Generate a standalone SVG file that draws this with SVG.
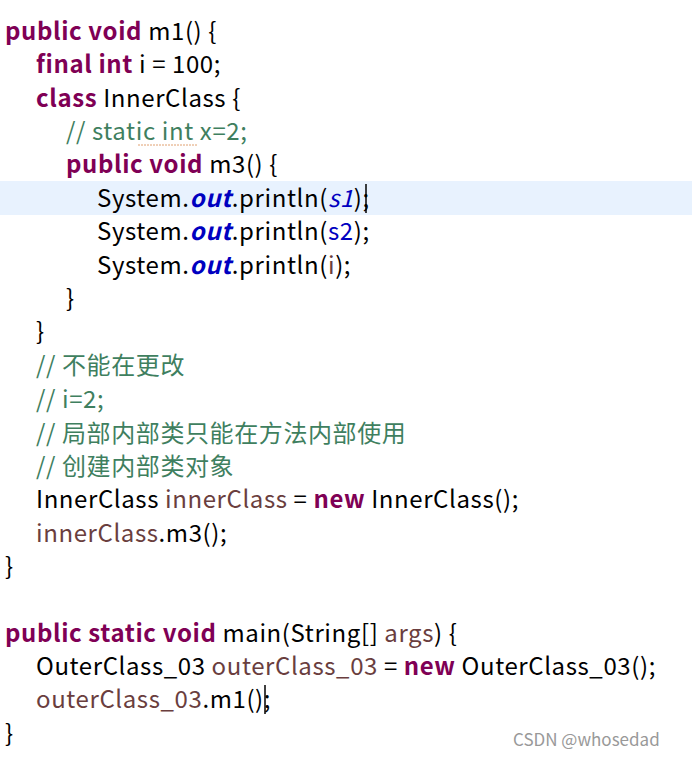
<svg xmlns="http://www.w3.org/2000/svg" width="692" height="757" viewBox="0 0 692 757">
<style>
text{font-family:"Noto Sans CJK SC","Noto Sans",sans-serif;font-size:24px;letter-spacing:0.6px;fill:#000}
.k{fill:#7f0055;font-weight:bold}
.c{fill:#3f7f5f}
.v{fill:#6a3e3e}
.o{fill:#0000c0;font-weight:bold;font-style:italic}
.f{fill:#0000c0}
.fi{fill:#0000c0;font-style:italic}
</style>
<rect width="692" height="757" fill="#fff"/>
<rect x="0" y="181" width="692" height="34" fill="#e8f2fe"/>
<line x1="366" y1="184" x2="366" y2="213" stroke="#000" stroke-width="1.5"/>
<line x1="265" y1="685" x2="265" y2="714" stroke="#000" stroke-width="1.5"/>
<line x1="138" y1="145" x2="198" y2="145" stroke="#e0a070" stroke-width="1" stroke-dasharray="2,1"/>
<text x="5" y="40"><tspan class="k">public void</tspan> m1() {</text>
<text x="36" y="73"><tspan class="k">final int</tspan> i = 100;</text>
<text x="36" y="107"><tspan class="k">class</tspan> InnerClass {</text>
<text x="66" y="140" class="c">// static int x=2;</text>
<text x="66" y="173"><tspan class="k">public void</tspan> m3() {</text>
<text x="97" y="207">System.<tspan class="o">out</tspan>.println(<tspan class="fi">s1</tspan>);</text>
<text x="97" y="240">System.<tspan class="o">out</tspan>.println(<tspan class="f">s2</tspan>);</text>
<text x="97" y="274">System.<tspan class="o">out</tspan>.println(<tspan class="v">i</tspan>);</text>
<text x="66" y="307">}</text>
<text x="36" y="340">}</text>
<text x="36" y="374" class="c">// 不能在更改</text>
<text x="36" y="408" class="c">// i=2;</text>
<text x="36" y="442" class="c">// 局部内部类只能在方法内部使用</text>
<text x="36" y="475" class="c">// 创建内部类对象</text>
<text x="36" y="508">InnerClass <tspan class="v">innerClass</tspan> = <tspan class="k">new</tspan> InnerClass();</text>
<text x="36" y="542"><tspan class="v">innerClass</tspan>.m3();</text>
<text x="5" y="575">}</text>
<text x="5" y="642"><tspan class="k">public static void</tspan> main(String[] <tspan class="v">args</tspan>) {</text>
<text x="36" y="675">OuterClass_03 <tspan class="v">outerClass_03</tspan> = <tspan class="k">new</tspan> OuterClass_03();</text>
<text x="36" y="708"><tspan class="v">outerClass_03</tspan>.m1();</text>
<text x="5" y="742">}</text>
<text x="513" y="746" style="font-size:17px;letter-spacing:0;fill:#999">CSDN @whosedad</text>
</svg>
